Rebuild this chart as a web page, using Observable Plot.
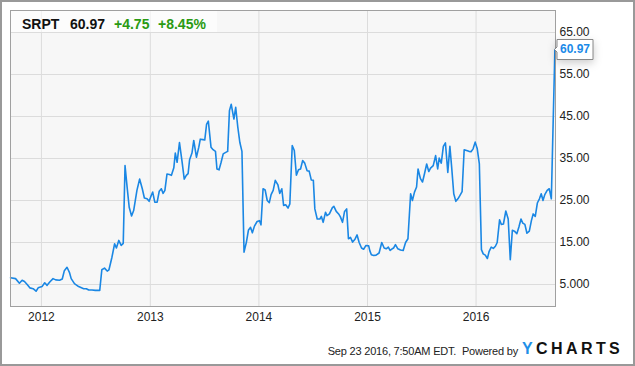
<!DOCTYPE html>
<html>
<head>
<meta charset="utf-8">
<script src="https://cdn.jsdelivr.net/npm/d3@7"></script>
<script src="https://cdn.jsdelivr.net/npm/@observablehq/plot@0.6"></script>
<style>
  body { margin: 0; background: #fff; }
  #wrap { position: relative; width: 635px; height: 366px; overflow: hidden; font-family: "Liberation Sans", Arial, sans-serif; }
  #border { position: absolute; left: 0; top: 0; width: 635px; height: 366px; box-sizing: border-box; border: 2px solid #999; pointer-events: none; }
  #hbox { position: absolute; left: 11px; top: 11px; width: 206px; height: 21px; background: rgba(255,255,255,0.6); }
  .h { position: absolute; top: 17px; font-size: 14px; line-height: 14px; font-weight: bold; white-space: nowrap; }
  .blk { color: #111; }
  .grn { color: #2a9a12; }
  #foot { position: absolute; right: 117px; top: 346px; font-size: 11px; line-height: 11px; letter-spacing: -0.2px; color: #222; white-space: nowrap; }
  #logo { position: absolute; left: 522px; top: 341px; font-size: 16px; line-height: 16px; font-weight: bold; letter-spacing: 3.4px; color: #111; white-space: nowrap; }
  #logo span { color: #1e90e8; }
  svg [aria-label="tip"] text, svg [aria-label="tip"] tspan { fill: #1a8ae8 !important; }
</style>
</head>
<body>
<div id="wrap">
  <div id="chart"></div>
  <div id="hbox"></div>
  <div class="h blk" style="left:22px">SRPT</div>
  <div class="h blk" style="left:70px">60.97</div>
  <div class="h grn" style="left:114px">+4.75</div>
  <div class="h grn" style="left:158px">+8.45%</div>
  <div id="foot">Sep 23 2016, 7:50AM EDT.&nbsp; Powered by</div>
  <div id="logo"><span>Y</span>CHARTS</div>
  <div id="border"></div>
</div>
<script>
const dates = [
"2011-09-19","2011-10-06","2011-10-19","2011-10-28","2011-11-05","2011-11-14","2011-11-23","2011-12-04","2011-12-14","2011-12-21",
"2012-01-03","2012-01-12","2012-01-20","2012-01-29","2012-02-09","2012-02-18","2012-03-02","2012-03-11","2012-03-18","2012-03-27",
"2012-04-04","2012-04-10","2012-04-21","2012-05-05","2012-05-22","2012-05-31","2012-06-08","2012-06-19","2012-06-30","2012-07-15",
"2012-07-22","2012-07-31","2012-08-09","2012-08-15","2012-08-25","2012-09-03","2012-09-09","2012-09-17","2012-09-25","2012-10-02",
"2012-10-08","2012-10-15","2012-10-22","2012-10-30","2012-11-06","2012-11-17","2012-11-26","2012-12-05","2012-12-12","2012-12-21",
"2012-12-28","2013-01-04","2013-01-09","2013-01-16","2013-01-24","2013-01-31","2013-02-07","2013-02-13","2013-02-19","2013-02-26",
"2013-03-06","2013-03-13","2013-03-21","2013-03-26","2013-04-01","2013-04-09","2013-04-18","2013-04-25","2013-05-02","2013-05-08",
"2013-05-13","2013-05-21","2013-05-27","2013-06-05","2013-06-13","2013-06-18","2013-06-27","2013-07-03","2013-07-09","2013-07-15",
"2013-07-24","2013-07-31","2013-08-08","2013-08-13","2013-08-20","2013-08-27","2013-09-03","2013-09-10","2013-09-18","2013-09-24",
"2013-09-30","2013-10-09","2013-10-15","2013-10-22","2013-10-29","2013-11-05","2013-11-12","2013-11-20","2013-11-27","2013-12-04",
"2013-12-10","2013-12-17","2013-12-26","2014-01-03","2014-01-08","2014-01-15","2014-01-22","2014-01-29","2014-02-05","2014-02-11",
"2014-02-18","2014-02-25","2014-03-06","2014-03-12","2014-03-19","2014-03-25","2014-04-01","2014-04-09","2014-04-15","2014-04-23",
"2014-04-30","2014-05-07","2014-05-14","2014-05-21","2014-05-28","2014-06-04","2014-06-12","2014-06-19","2014-06-26","2014-07-03",
"2014-07-08","2014-07-16","2014-07-25","2014-07-30","2014-08-05","2014-08-13","2014-08-18","2014-08-26","2014-09-05","2014-09-10",
"2014-09-18","2014-09-26","2014-10-02","2014-10-09","2014-10-16","2014-10-23","2014-10-29","2014-11-05","2014-11-12","2014-11-20",
"2014-11-27","2014-12-04","2014-12-12","2014-12-19","2014-12-27","2015-01-05","2015-01-09","2015-01-14","2015-01-22","2015-01-30",
"2015-02-09","2015-02-18","2015-02-26","2015-03-05","2015-03-12","2015-03-18","2015-03-25","2015-03-30","2015-04-05","2015-04-13",
"2015-04-22","2015-05-01","2015-05-09","2015-05-17","2015-05-26","2015-06-01","2015-06-08","2015-06-15","2015-06-20","2015-06-28",
"2015-07-05","2015-07-12","2015-07-19","2015-07-26","2015-08-01","2015-08-10","2015-08-18","2015-08-25","2015-08-30","2015-09-06",
"2015-09-13","2015-09-20","2015-09-28","2015-10-05","2015-10-11","2015-10-18","2015-10-25","2015-11-01","2015-11-07","2015-11-15",
"2015-11-22","2015-11-30","2015-12-08","2015-12-15","2015-12-22","2015-12-29","2016-01-05","2016-01-12","2016-01-19","2016-01-25",
"2016-02-01","2016-02-08","2016-02-14","2016-02-21","2016-02-28","2016-03-06","2016-03-12","2016-03-20","2016-03-26","2016-04-02",
"2016-04-10","2016-04-18","2016-04-25","2016-05-02","2016-05-09","2016-05-17","2016-05-24","2016-05-31","2016-06-06","2016-06-13",
"2016-06-20","2016-06-28","2016-07-05","2016-07-11","2016-07-18","2016-07-25","2016-08-01","2016-08-07","2016-08-13","2016-08-19",
"2016-08-27","2016-09-03","2016-09-10","2016-09-22"
];
const prices = [
6.6,6.4,5.3,6.0,5.7,5.0,4.2,4.0,3.4,4.2,
4.5,5.4,4.8,5.6,6.4,6.1,6.0,6.3,8.3,9.1,
7.9,6.4,5.2,4.5,4.0,4.0,3.7,3.7,3.6,3.6,
8.5,8.9,8.2,8.5,11.5,14.7,13.7,15.5,14.3,14.8,
33.3,28.2,23.4,21.3,22.6,27.4,30.1,27.8,25.6,25.4,
24.8,26.2,27.0,24.6,24.6,27.2,27.8,26.7,27.4,31.3,
31.2,31.0,32.8,36.3,34.1,38.8,34.1,30.1,31.0,31.4,
34.7,36.3,39.3,35.3,37.7,39.6,39.5,39.4,43.1,43.9,
37.7,37.1,36.7,32.5,32.3,34.1,36.1,36.4,36.7,46.4,
47.9,44.4,47.2,42.5,38.8,36.7,12.7,15.1,18.0,18.6,
17.3,18.9,20.0,20.2,19.2,27.8,27.5,25.0,24.5,26.4,
27.4,29.8,28.7,26.7,27.8,23.8,24.0,23.2,24.2,38.1,
36.9,31.0,32.3,32.5,34.5,33.9,32.1,32.0,29.9,29.8,
23.0,20.6,20.6,21.2,19.8,22.2,21.4,21.8,23.3,23.6,
22.4,21.8,21.1,19.8,22.4,23.0,15.9,16.2,15.1,15.8,
16.8,15.0,13.7,13.4,14.3,14.2,13.0,12.1,11.9,12.0,
12.5,15.0,13.7,13.5,13.9,13.1,13.5,13.7,14.5,13.5,
13.2,13.1,15.0,15.9,26.6,25.0,27.0,28.2,32.5,30.2,
29.4,31.5,33.7,31.9,32.7,33.3,35.7,32.5,35.1,33.9,
37.9,38.7,31.7,37.9,32.9,26.6,24.8,25.4,26.1,27.1,
37.1,36.9,36.7,36.6,37.3,38.9,37.3,33.7,13.3,12.3,
12.0,11.2,12.9,13.9,13.6,14.1,15.0,20.4,19.3,19.4,
22.5,20.6,10.9,17.9,17.7,17.1,18.7,20.6,19.6,19.3,
17.2,17.7,20.2,21.8,21.2,24.4,25.4,26.6,25.0,26.4,
27.4,27.8,25.4,60.97
];
const yTicks = [5, 15, 25, 35, 45, 55, 65];
const yTickLabels = ["5.000", "15.00", "25.00", "35.00", "45.00", "55.00", "65.00"];
const yearTickDates = ["2012-01-01", "2013-01-01", "2014-01-01", "2015-01-01", "2016-01-01"];
const yearLabels = ["2012", "2013", "2014", "2015", "2016"];

const data = dates.map((d, i) => ({date: new Date(d), price: prices[i]}));
const last = data[data.length - 1];
const yearDates = yearTickDates.map(d => new Date(d));

const chart = Plot.plot({
  width: 635,
  height: 366,
  marginLeft: 10,
  marginRight: 80,
  marginTop: 10,
  marginBottom: 60,
  x: {type: "utc", domain: [new Date("2011-09-19"), new Date("2016-09-24")], label: null},
  y: {domain: [-0.24, 70.24], label: null},
  style: {fontFamily: "'Liberation Sans', Arial, sans-serif", fontSize: "12px", color: "#222", background: "transparent"},
  marks: [
    Plot.frame({fill: "#f7f7f7"}),
    Plot.ruleY(yTicks, {stroke: "#dcdcdc", strokeWidth: 1}),
    Plot.ruleX(yearDates, {stroke: "#dcdcdc", strokeWidth: 1}),
    Plot.axisY(yTicks, {anchor: "right", tickSize: 0, tickPadding: 4, fontSize: 12, label: null,
      tickFormat: d => yTickLabels[yTicks.indexOf(d)]}),
    Plot.axisX(yearDates, {anchor: "bottom", tickSize: 0, tickPadding: 6, fontSize: 12, label: null,
      tickFormat: d => yearLabels[yearDates.findIndex(t => +t === +d)]}),
    Plot.lineY(data, {x: "date", y: "price", stroke: "#1a87e4", strokeWidth: 1.6}),
    Plot.frame({stroke: "#a0a0a0"}),
    Plot.tip([last], {x: "date", y: "price", title: d => d.price.toFixed(2), anchor: "left",
      pointerSize: 5, textPadding: 3, fill: "white", stroke: "#888", fontSize: 12, fontWeight: "bold"})
  ]
});
document.getElementById("chart").appendChild(chart);
</script>
</body>
</html>
